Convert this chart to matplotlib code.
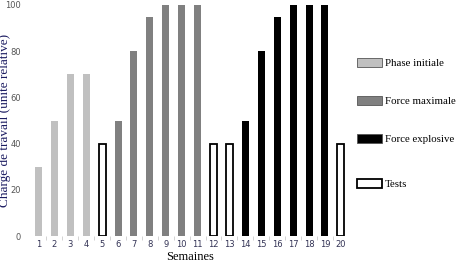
import matplotlib.pyplot as plt
from matplotlib.patches import Patch

# Data
weeks = list(range(1, 21))
charge = [30, 50, 70, 70, 40, 50, 80, 95, 100, 100,
          100, 40, 40, 50, 80, 95, 100, 100, 100, 40]
phase = ['init', 'init', 'init', 'init', 'test', 'max', 'max', 'max', 'max', 'max',
         'max', 'test', 'test', 'expl', 'expl', 'expl', 'expl', 'expl', 'expl', 'test']

phase_labels = {'init': 'Phase initiale', 'max': 'Force maximale',
                'expl': 'Force explosive', 'test': 'Tests'}
phase_colors = {'init': '#c0c0c0', 'max': '#808080', 'expl': '#000000', 'test': '#ffffff'}

serif = 'Liberation Serif'

fig = plt.figure(figsize=(4.62, 2.62), dpi=100)
ax = fig.add_axes([0.066, 0.099, 0.689, 0.882])

colors = [phase_colors[p] for p in phase]
edges = ['black' if p == 'test' else phase_colors[p] for p in phase]
widths = [1.3 if p == 'test' else 0 for p in phase]
ax.bar(weeks, charge, width=0.44, color=colors, edgecolor=edges, linewidth=widths)

ax.set_xlim(0.5, 20.5)
ax.set_ylim(0, 100)
for s in ax.spines.values():
    s.set_visible(False)

ax.set_xticks(weeks)
ax.set_xticks([w + 0.5 for w in weeks[:-1]], minor=True)
ax.tick_params(axis='x', which='major', length=0, labelsize=6, colors='#333355', pad=3)
ax.tick_params(axis='x', which='minor', length=3, color='#cccccc')
ax.set_yticks([0, 20, 40, 60, 80, 100])
ax.tick_params(axis='y', length=0, labelsize=6, colors='#555555', pad=7)

ax.set_xlabel('Semaines', fontfamily=serif, fontsize=9)
ax.xaxis.set_label_coords(0.5, -0.063)
ax.set_ylabel('Charge de travail (unité relative)', fontfamily=serif, fontsize=9.5,
              color='#1a1a60')
ax.yaxis.set_label_coords(-0.062, 0.5)


def make_handle(k):
    return Patch(facecolor=phase_colors[k], edgecolor='black' if k == 'test' else '#555555',
                 linewidth=1.3 if k == 'test' else 0.6, label=phase_labels[k])


leg_opts = dict(frameon=False, prop={'family': serif, 'size': 7.8},
                labelspacing=2.55, handlelength=2.3, handleheight=0.9, handletextpad=0.25)
fig.legend(handles=[make_handle(k) for k in ['init', 'max', 'expl']],
           loc='upper left', bbox_to_anchor=(0.752, 0.815), **leg_opts)
fig.legend(handles=[make_handle('test')],
           loc='upper left', bbox_to_anchor=(0.752, 0.355), **leg_opts)

fig.savefig('out.png', dpi=100)
